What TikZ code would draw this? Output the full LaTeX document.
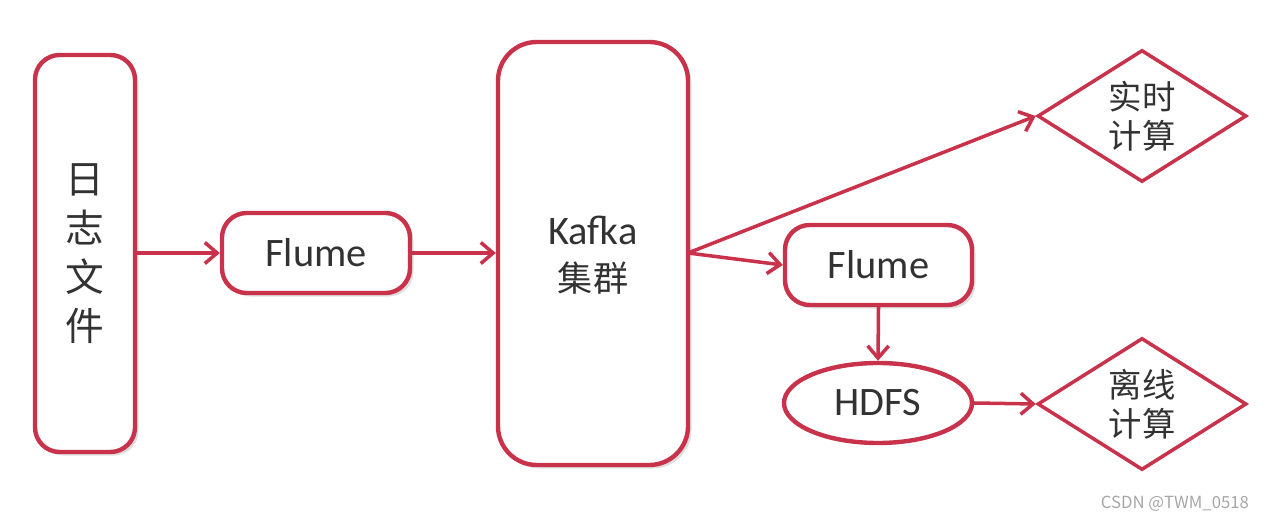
\documentclass[tikz,border=0pt]{standalone}
\usepackage{fontspec}
\setmainfont{Carlito}
\newfontfamily\cjk{Noto Sans CJK SC}
\usetikzlibrary{shapes.geometric,arrows.meta,shadows}
\definecolor{cred}{RGB}{200,50,75}
\definecolor{ctext}{RGB}{50,50,50}
\tikzset{
 box/.style={draw=cred,line width=2.5pt,fill=white,rounded corners=14pt,text=ctext,font=\fontsize{23}{27}\selectfont,
   drop shadow={shadow xshift=2pt,shadow yshift=-2pt,opacity=0.25}},
 dia/.style={diamond,aspect=1.58,draw=cred,line width=2pt,fill=white,text=ctext,inner sep=0pt,font=\cjk\fontsize{19}{22}\selectfont},
 arr/.style={draw=cred,line width=2pt,-{Straight Barb[length=7pt,width=12pt]}}
}
\begin{document}
\begin{tikzpicture}[x=0.02cm,y=-0.02cm]
\useasboundingbox (0,0) rectangle (1267,523);
\node[box,minimum width=100*0.02cm,minimum height=397*0.02cm,font=\cjk\fontsize{22}{28}\selectfont,align=center] (log) at (85,253.5) {日\\志\\文\\件};
\node[box,minimum width=188*0.02cm,minimum height=80*0.02cm] (f1) at (316,253) {Flume};
\node[box,minimum width=190*0.02cm,minimum height=423*0.02cm,rounded corners=22pt,align=center] (k) at (593,253.5) {};
\node[text=ctext,font=\fontsize{23}{27}\selectfont] at (593,230) {Kafka};
\node[text=ctext,font=\cjk\fontsize{20}{24}\selectfont] at (593,278) {集群};
\node[box,minimum width=187*0.02cm,minimum height=80*0.02cm] (f2) at (878.5,265) {Flume};
\node[ellipse,draw=cred,line width=2.5pt,fill=white,minimum width=188*0.02cm,minimum height=80*0.02cm,text=ctext,font=\fontsize{23}{27}\selectfont] (h) at (878,403) {HDFS};
\node[dia,minimum width=209*0.02cm,minimum height=132*0.02cm,align=center] (rt) at (1142,116) {实时\\计算};
\node[dia,minimum width=209*0.02cm,minimum height=132*0.02cm,align=center] (off) at (1142,404) {离线\\计算};
\coordinate (ko) at (688,253);
\draw[arr] (log.east |- f1) -- (f1.west);
\draw[arr] (f1.east) -- (k.west |- f1);
\draw[arr] (ko) -- (rt.west);
\draw[arr] (ko) -- (f2.west);
\draw[arr] (f2.south) -- (h.north);
\draw[arr] (h.east) -- (off.west);
\node[text=gray!70,font=\cjk\fontsize{9.5}{11}\selectfont,anchor=east] (wm) at (1255,504) {CSDN @TWM\_0518};
\end{tikzpicture}
\end{document}
